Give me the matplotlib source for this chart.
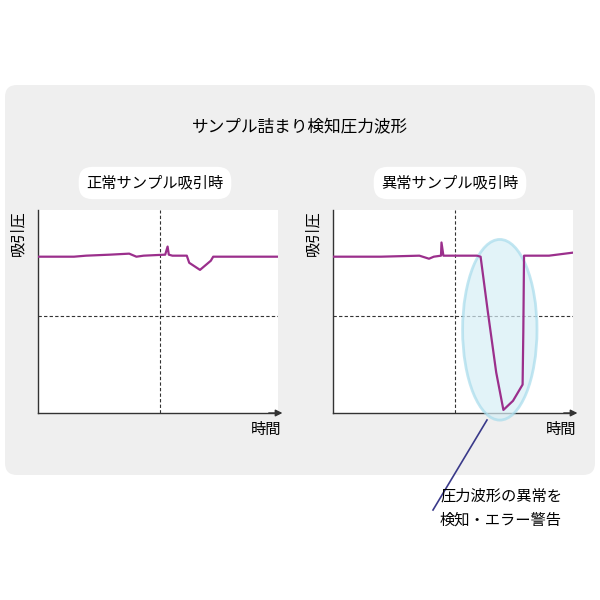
import matplotlib
matplotlib.use("Agg")
import matplotlib.pyplot as plt
from matplotlib.patches import FancyBboxPatch, Ellipse

plt.rcParams['font.family'] = ['Noto Sans CJK JP', 'DejaVu Sans']

title = "サンプル詰まり検知圧力波形"
panel_titles = ["正常サンプル吸引時", "異常サンプル吸引時"]
ylabel = "吸引圧"
xlabel = "時間"
note = "圧力波形の異常を\n検知・エラー警告"

normal_x = [0, 1.5, 2.0, 3.0, 3.8, 4.1, 4.4, 5.3, 5.4, 5.45, 5.6, 6.2, 6.3, 6.75, 7.2, 7.3, 8.5, 10]
normal_y = [7.7, 7.7, 7.75, 7.8, 7.85, 7.7, 7.75, 7.8, 8.2, 7.8, 7.75, 7.75, 7.4, 7.05, 7.5, 7.7, 7.7, 7.7]
abn_x = [0, 2.0, 3.6, 4.0, 4.2, 4.5, 4.52, 4.6, 5.5, 6.0, 6.15, 6.45, 6.8, 7.1, 7.5, 7.9, 7.93, 7.96, 9.0, 10]
abn_y = [7.7, 7.7, 7.75, 7.6, 7.7, 7.75, 8.4, 7.75, 7.75, 7.75, 7.7, 5.0, 2.0, 0.15, 0.6, 1.4, 4.0, 7.75, 7.75, 7.9]

fig = plt.figure(figsize=(6, 6), dpi=100)
fig.patch.set_facecolor('white')
P = lambda v: v / 600
fig.patches.append(FancyBboxPatch((P(5), P(125)), P(590), P(390),
    boxstyle="round,pad=0,rounding_size=0.02", transform=fig.transFigure,
    facecolor='#efefef', edgecolor='none', zorder=-5))
fig.text(P(300), 1 - P(127), title, ha='center', va='center', fontsize=12)

for cx, t in zip([155, 450], panel_titles):
    fig.text(P(cx), 1 - P(183), t, ha='center', va='center', fontsize=11,
             bbox=dict(boxstyle='round,pad=0.5,rounding_size=0.9', fc='white', ec='none'))

def make(left, xs, ys):
    ax = fig.add_axes([P(left), P(187), P(240), P(203)], zorder=2)
    ax.set_xlim(0, 10); ax.set_ylim(0, 10)
    ax.set_facecolor('white')
    for s in ['top', 'right']:
        ax.spines[s].set_visible(False)
    for s in ['left', 'bottom']:
        ax.spines[s].set_color('#333'); ax.spines[s].set_linewidth(1)
    ax.set_xticks([]); ax.set_yticks([])
    ax.axhline(4.8, color='#333', ls=(0, (3, 2)), lw=0.8)
    ax.axvline(5.1, color='#333', ls=(0, (3, 2)), lw=0.8)
    ax.annotate('', xy=(10.3, 0), xytext=(9.5, 0), annotation_clip=False,
                arrowprops=dict(arrowstyle='-|>', color='#333', lw=1))
    ax.plot(xs, ys, color='#9b2f8c', lw=1.6, zorder=5)
    ax.text(-0.5, 10, ylabel, rotation=90, ha='right', va='top', fontsize=11)
    ax.text(9.5, -0.4, xlabel, ha='center', va='top', fontsize=11)
    return ax

make(38, normal_x, normal_y)
ax2 = make(333, abn_x, abn_y)
ax2.add_patch(Ellipse((6.95, 4.1), 3.1, 8.9, facecolor='#d6eef6', edgecolor='#a8dcec',
                      lw=2, alpha=0.7, clip_on=False, zorder=4))
fig.add_artist(plt.Line2D([P(433), P(487)], [1 - P(510), 1 - P(420)], color='#3a3a8a', lw=1.2))
fig.text(P(440), 1 - P(508), note, ha='left', va='center', fontsize=11, linespacing=1.5)
fig.savefig('out.png', dpi=100)
